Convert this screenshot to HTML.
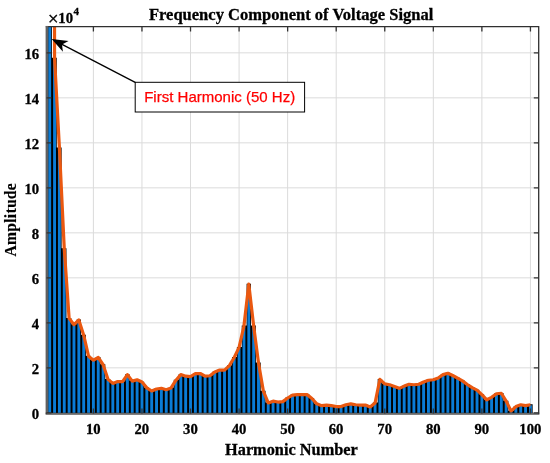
<!DOCTYPE html>
<html lang="en"><head><meta charset="utf-8"><title>Frequency Component of Voltage Signal</title>
<style>html,body{margin:0;padding:0;background:#fff;}svg{display:block;}.s{font-family:"Liberation Serif","DejaVu Serif",serif;font-weight:bold;fill:#000;stroke:#000;stroke-width:0.3px;}.a{font-family:"Liberation Sans","DejaVu Sans",sans-serif;fill:#ff0000;stroke:#ff0000;stroke-width:0.25px;}</style></head><body>
<svg width="550" height="463" viewBox="0 0 550 463">
<rect width="550" height="463" fill="#fff"/>
<defs><clipPath id="c"><rect x="46.5" y="26.6" width="492.20000000000005" height="386.79999999999995"/></clipPath></defs>
<path d="M93.40 26.6V413.4M141.96 26.6V413.4M190.52 26.6V413.4M239.08 26.6V413.4M287.64 26.6V413.4M336.20 26.6V413.4M384.76 26.6V413.4M433.32 26.6V413.4M481.88 26.6V413.4M530.44 26.6V413.4M46.5 367.85H538.7M46.5 322.85H538.7M46.5 277.85H538.7M46.5 232.85H538.7M46.5 187.85H538.7M46.5 142.85H538.7M46.5 97.85H538.7M46.5 52.85H538.7" stroke="#dbdbdb" stroke-width="1" fill="none"/>
<g clip-path="url(#c)">
<path d="M47.50 413.4V-6337.55h4.4V413.4zM51.80 413.4V57.85h0.8V413.4zM52.35 413.4V57.85h4.4V413.4zM56.65 413.4V147.40h0.8V413.4zM57.21 413.4V147.40h4.4V413.4zM61.51 413.4V248.20h0.8V413.4zM62.06 413.4V248.20h4.4V413.4zM66.36 413.4V317.95h0.8V413.4zM66.92 413.4V317.95h4.4V413.4zM71.22 413.4V324.25h0.8V413.4zM71.78 413.4V324.25h4.4V413.4zM76.08 413.4V324.25h0.8V413.4zM76.63 413.4V319.53h4.4V413.4zM80.93 413.4V334.83h0.8V413.4zM81.49 413.4V334.83h4.4V413.4zM85.79 413.4V355.75h0.8V413.4zM86.34 413.4V355.75h4.4V413.4zM90.64 413.4V359.80h0.8V413.4zM91.20 413.4V359.80h4.4V413.4zM95.50 413.4V359.80h0.8V413.4zM96.06 413.4V357.10h4.4V413.4zM100.36 413.4V364.30h0.8V413.4zM100.91 413.4V364.30h4.4V413.4zM105.21 413.4V378.93h0.8V413.4zM105.77 413.4V378.93h4.4V413.4zM110.07 413.4V382.98h0.8V413.4zM110.62 413.4V382.98h4.4V413.4zM114.92 413.4V382.98h0.8V413.4zM115.48 413.4V381.18h4.4V413.4zM119.78 413.4V381.18h0.8V413.4zM120.34 413.4V381.18h4.4V413.4zM124.64 413.4V381.18h0.8V413.4zM125.19 413.4V374.20h4.4V413.4zM129.49 413.4V380.73h0.8V413.4zM130.05 413.4V380.73h4.4V413.4zM134.35 413.4V380.73h0.8V413.4zM134.90 413.4V379.38h4.4V413.4zM139.20 413.4V381.63h0.8V413.4zM139.76 413.4V381.63h4.4V413.4zM144.06 413.4V387.48h0.8V413.4zM144.62 413.4V387.48h4.4V413.4zM148.92 413.4V390.63h0.8V413.4zM149.47 413.4V390.63h4.4V413.4zM153.77 413.4V390.63h0.8V413.4zM154.33 413.4V388.60h4.4V413.4zM158.63 413.4V388.60h0.8V413.4zM159.18 413.4V387.93h4.4V413.4zM163.48 413.4V389.28h0.8V413.4zM164.04 413.4V389.28h4.4V413.4zM168.34 413.4V389.28h0.8V413.4zM168.90 413.4V387.48h4.4V413.4zM173.20 413.4V387.48h0.8V413.4zM173.75 413.4V379.83h4.4V413.4zM178.05 413.4V379.83h0.8V413.4zM178.61 413.4V374.20h4.4V413.4zM182.91 413.4V375.78h0.8V413.4zM183.46 413.4V375.78h4.4V413.4zM187.76 413.4V376.23h0.8V413.4zM188.32 413.4V376.23h4.4V413.4zM192.62 413.4V376.23h0.8V413.4zM193.18 413.4V373.30h4.4V413.4zM197.48 413.4V373.30h0.8V413.4zM198.03 413.4V373.08h4.4V413.4zM202.33 413.4V375.78h0.8V413.4zM202.89 413.4V375.78h4.4V413.4zM207.19 413.4V375.78h0.8V413.4zM207.74 413.4V375.33h4.4V413.4zM212.04 413.4V375.33h0.8V413.4zM212.60 413.4V371.50h4.4V413.4zM216.90 413.4V371.50h0.8V413.4zM217.46 413.4V369.70h4.4V413.4zM221.76 413.4V369.70h0.8V413.4zM222.31 413.4V369.70h4.4V413.4zM226.61 413.4V369.70h0.8V413.4zM227.17 413.4V365.20h4.4V413.4zM231.47 413.4V365.20h0.8V413.4zM232.02 413.4V357.10h4.4V413.4zM236.32 413.4V357.10h0.8V413.4zM236.88 413.4V346.98h4.4V413.4zM241.18 413.4V346.98h0.8V413.4zM241.74 413.4V325.60h4.4V413.4zM246.04 413.4V325.60h0.8V413.4zM246.59 413.4V283.75h4.4V413.4zM250.89 413.4V325.60h0.8V413.4zM251.45 413.4V325.60h4.4V413.4zM255.75 413.4V362.50h0.8V413.4zM256.30 413.4V362.50h4.4V413.4zM260.60 413.4V390.63h0.8V413.4zM261.16 413.4V390.63h4.4V413.4zM265.46 413.4V402.55h0.8V413.4zM266.02 413.4V402.55h4.4V413.4zM270.32 413.4V402.55h0.8V413.4zM270.87 413.4V400.75h4.4V413.4zM275.17 413.4V401.65h0.8V413.4zM275.73 413.4V401.65h4.4V413.4zM280.03 413.4V401.65h0.8V413.4zM280.58 413.4V401.20h4.4V413.4zM284.88 413.4V401.20h0.8V413.4zM285.44 413.4V397.60h4.4V413.4zM289.74 413.4V397.60h0.8V413.4zM290.30 413.4V394.68h4.4V413.4zM294.60 413.4V394.68h0.8V413.4zM295.15 413.4V394.23h4.4V413.4zM299.45 413.4V394.23h0.8V413.4zM300.01 413.4V394.23h4.4V413.4zM304.31 413.4V394.23h0.8V413.4zM304.86 413.4V394.23h4.4V413.4zM309.16 413.4V398.05h0.8V413.4zM309.72 413.4V398.05h4.4V413.4zM314.02 413.4V403.45h0.8V413.4zM314.58 413.4V403.45h4.4V413.4zM318.88 413.4V405.25h0.8V413.4zM319.43 413.4V405.25h4.4V413.4zM323.73 413.4V405.25h0.8V413.4zM324.29 413.4V404.80h4.4V413.4zM328.59 413.4V405.25h0.8V413.4zM329.14 413.4V405.25h4.4V413.4zM333.44 413.4V406.15h0.8V413.4zM334.00 413.4V406.15h4.4V413.4zM338.30 413.4V406.15h0.8V413.4zM338.86 413.4V406.15h4.4V413.4zM343.16 413.4V406.15h0.8V413.4zM343.71 413.4V404.35h4.4V413.4zM348.01 413.4V404.35h0.8V413.4zM348.57 413.4V403.45h4.4V413.4zM352.87 413.4V404.35h0.8V413.4zM353.42 413.4V404.35h4.4V413.4zM357.72 413.4V404.80h0.8V413.4zM358.28 413.4V404.80h4.4V413.4zM362.58 413.4V404.80h0.8V413.4zM363.14 413.4V404.58h4.4V413.4zM367.44 413.4V406.60h0.8V413.4zM367.99 413.4V406.60h4.4V413.4zM372.29 413.4V406.60h0.8V413.4zM372.85 413.4V402.55h4.4V413.4zM377.15 413.4V402.55h0.8V413.4zM377.70 413.4V378.93h4.4V413.4zM382.00 413.4V383.43h0.8V413.4zM382.56 413.4V383.43h4.4V413.4zM386.86 413.4V384.33h0.8V413.4zM387.42 413.4V384.33h4.4V413.4zM391.72 413.4V386.13h0.8V413.4zM392.27 413.4V386.13h4.4V413.4zM396.57 413.4V387.93h0.8V413.4zM397.13 413.4V387.93h4.4V413.4zM401.43 413.4V387.93h0.8V413.4zM401.98 413.4V385.68h4.4V413.4zM406.28 413.4V385.68h0.8V413.4zM406.84 413.4V383.88h4.4V413.4zM411.14 413.4V384.33h0.8V413.4zM411.70 413.4V384.33h4.4V413.4zM416.00 413.4V384.33h0.8V413.4zM416.55 413.4V383.88h4.4V413.4zM420.85 413.4V383.88h0.8V413.4zM421.41 413.4V381.63h4.4V413.4zM425.71 413.4V381.63h0.8V413.4zM426.26 413.4V379.83h4.4V413.4zM430.56 413.4V379.83h0.8V413.4zM431.12 413.4V379.38h4.4V413.4zM435.42 413.4V379.38h0.8V413.4zM435.98 413.4V377.58h4.4V413.4zM440.28 413.4V377.58h0.8V413.4zM440.83 413.4V374.20h4.4V413.4zM445.13 413.4V374.20h0.8V413.4zM445.69 413.4V372.85h4.4V413.4zM449.99 413.4V375.10h0.8V413.4zM450.54 413.4V375.10h4.4V413.4zM454.84 413.4V377.80h0.8V413.4zM455.40 413.4V377.80h4.4V413.4zM459.70 413.4V380.50h0.8V413.4zM460.26 413.4V380.50h4.4V413.4zM464.56 413.4V384.10h0.8V413.4zM465.11 413.4V384.10h4.4V413.4zM469.41 413.4V387.25h0.8V413.4zM469.97 413.4V387.25h4.4V413.4zM474.27 413.4V389.73h0.8V413.4zM474.82 413.4V389.73h4.4V413.4zM479.12 413.4V394.23h0.8V413.4zM479.68 413.4V394.23h4.4V413.4zM483.98 413.4V399.40h0.8V413.4zM484.54 413.4V399.40h4.4V413.4zM488.84 413.4V399.40h0.8V413.4zM489.39 413.4V396.93h4.4V413.4zM493.69 413.4V396.93h0.8V413.4zM494.25 413.4V393.33h4.4V413.4zM498.55 413.4V393.33h0.8V413.4zM499.10 413.4V392.88h4.4V413.4zM503.40 413.4V400.75h0.8V413.4zM503.96 413.4V400.75h4.4V413.4zM508.26 413.4V410.65h0.8V413.4zM508.82 413.4V410.65h4.4V413.4zM513.12 413.4V410.65h0.8V413.4zM513.67 413.4V406.15h4.4V413.4zM517.97 413.4V406.15h0.8V413.4zM518.53 413.4V404.35h4.4V413.4zM522.83 413.4V405.25h0.8V413.4zM523.38 413.4V405.25h4.4V413.4zM527.68 413.4V405.25h0.8V413.4zM528.24 413.4V404.35h4.4V413.4z" fill="#000"/>
<path d="M48.25 413.4V-6336.65h2.9V413.4zM53.10 413.4V58.75h2.9V413.4zM57.96 413.4V148.30h2.9V413.4zM62.81 413.4V249.10h2.9V413.4zM67.67 413.4V318.85h2.9V413.4zM72.53 413.4V325.15h2.9V413.4zM77.38 413.4V320.43h2.9V413.4zM82.24 413.4V335.73h2.9V413.4zM87.09 413.4V356.65h2.9V413.4zM91.95 413.4V360.70h2.9V413.4zM96.81 413.4V358.00h2.9V413.4zM101.66 413.4V365.20h2.9V413.4zM106.52 413.4V379.83h2.9V413.4zM111.37 413.4V383.88h2.9V413.4zM116.23 413.4V382.08h2.9V413.4zM121.09 413.4V382.08h2.9V413.4zM125.94 413.4V375.10h2.9V413.4zM130.80 413.4V381.62h2.9V413.4zM135.65 413.4V380.28h2.9V413.4zM140.51 413.4V382.53h2.9V413.4zM145.37 413.4V388.38h2.9V413.4zM150.22 413.4V391.53h2.9V413.4zM155.08 413.4V389.50h2.9V413.4zM159.93 413.4V388.83h2.9V413.4zM164.79 413.4V390.18h2.9V413.4zM169.65 413.4V388.38h2.9V413.4zM174.50 413.4V380.73h2.9V413.4zM179.36 413.4V375.10h2.9V413.4zM184.21 413.4V376.68h2.9V413.4zM189.07 413.4V377.12h2.9V413.4zM193.93 413.4V374.20h2.9V413.4zM198.78 413.4V373.98h2.9V413.4zM203.64 413.4V376.68h2.9V413.4zM208.49 413.4V376.23h2.9V413.4zM213.35 413.4V372.40h2.9V413.4zM218.21 413.4V370.60h2.9V413.4zM223.06 413.4V370.60h2.9V413.4zM227.92 413.4V366.10h2.9V413.4zM232.77 413.4V358.00h2.9V413.4zM237.63 413.4V347.88h2.9V413.4zM242.49 413.4V326.50h2.9V413.4zM247.34 413.4V284.65h2.9V413.4zM252.20 413.4V326.50h2.9V413.4zM257.05 413.4V363.40h2.9V413.4zM261.91 413.4V391.53h2.9V413.4zM266.77 413.4V403.45h2.9V413.4zM271.62 413.4V401.65h2.9V413.4zM276.48 413.4V402.55h2.9V413.4zM281.33 413.4V402.10h2.9V413.4zM286.19 413.4V398.50h2.9V413.4zM291.05 413.4V395.58h2.9V413.4zM295.90 413.4V395.12h2.9V413.4zM300.76 413.4V395.12h2.9V413.4zM305.61 413.4V395.12h2.9V413.4zM310.47 413.4V398.95h2.9V413.4zM315.33 413.4V404.35h2.9V413.4zM320.18 413.4V406.15h2.9V413.4zM325.04 413.4V405.70h2.9V413.4zM329.89 413.4V406.15h2.9V413.4zM334.75 413.4V407.05h2.9V413.4zM339.61 413.4V407.05h2.9V413.4zM344.46 413.4V405.25h2.9V413.4zM349.32 413.4V404.35h2.9V413.4zM354.17 413.4V405.25h2.9V413.4zM359.03 413.4V405.70h2.9V413.4zM363.89 413.4V405.48h2.9V413.4zM368.74 413.4V407.50h2.9V413.4zM373.60 413.4V403.45h2.9V413.4zM378.45 413.4V379.83h2.9V413.4zM383.31 413.4V384.33h2.9V413.4zM388.17 413.4V385.23h2.9V413.4zM393.02 413.4V387.03h2.9V413.4zM397.88 413.4V388.83h2.9V413.4zM402.73 413.4V386.58h2.9V413.4zM407.59 413.4V384.78h2.9V413.4zM412.45 413.4V385.23h2.9V413.4zM417.30 413.4V384.78h2.9V413.4zM422.16 413.4V382.53h2.9V413.4zM427.01 413.4V380.73h2.9V413.4zM431.87 413.4V380.28h2.9V413.4zM436.73 413.4V378.48h2.9V413.4zM441.58 413.4V375.10h2.9V413.4zM446.44 413.4V373.75h2.9V413.4zM451.29 413.4V376.00h2.9V413.4zM456.15 413.4V378.70h2.9V413.4zM461.01 413.4V381.40h2.9V413.4zM465.86 413.4V385.00h2.9V413.4zM470.72 413.4V388.15h2.9V413.4zM475.57 413.4V390.62h2.9V413.4zM480.43 413.4V395.12h2.9V413.4zM485.29 413.4V400.30h2.9V413.4zM490.14 413.4V397.83h2.9V413.4zM495.00 413.4V394.23h2.9V413.4zM499.85 413.4V393.78h2.9V413.4zM504.71 413.4V401.65h2.9V413.4zM509.57 413.4V411.55h2.9V413.4zM514.42 413.4V407.05h2.9V413.4zM519.28 413.4V405.25h2.9V413.4zM524.13 413.4V406.15h2.9V413.4zM528.99 413.4V405.25h2.9V413.4z" fill="#0A7CD6"/>
<polyline points="49.70,-6337.15 54.55,58.25 59.41,147.80 64.26,248.60 69.12,318.35 73.98,324.65 78.83,319.93 83.69,335.23 88.54,356.15 93.40,360.20 98.26,357.50 103.11,364.70 107.97,379.33 112.82,383.38 117.68,381.58 122.54,381.58 127.39,374.60 132.25,381.12 137.10,379.78 141.96,382.03 146.82,387.88 151.67,391.03 156.53,389.00 161.38,388.33 166.24,389.68 171.10,387.88 175.95,380.23 180.81,374.60 185.66,376.18 190.52,376.62 195.38,373.70 200.23,373.48 205.09,376.18 209.94,375.73 214.80,371.90 219.66,370.10 224.51,370.10 229.37,365.60 234.22,357.50 239.08,347.38 243.94,326.00 248.79,284.15 253.65,326.00 258.50,362.90 263.36,391.03 268.22,402.95 273.07,401.15 277.93,402.05 282.78,401.60 287.64,398.00 292.50,395.08 297.35,394.62 302.21,394.62 307.06,394.62 311.92,398.45 316.78,403.85 321.63,405.65 326.49,405.20 331.34,405.65 336.20,406.55 341.06,406.55 345.91,404.75 350.77,403.85 355.62,404.75 360.48,405.20 365.34,404.98 370.19,407.00 375.05,402.95 379.90,379.33 384.76,383.83 389.62,384.73 394.47,386.53 399.33,388.33 404.18,386.08 409.04,384.28 413.90,384.73 418.75,384.28 423.61,382.03 428.46,380.23 433.32,379.78 438.18,377.98 443.03,374.60 447.89,373.25 452.74,375.50 457.60,378.20 462.46,380.90 467.31,384.50 472.17,387.65 477.02,390.12 481.88,394.62 486.74,399.80 491.59,397.33 496.45,393.73 501.30,393.28 506.16,401.15 511.02,411.05 515.87,406.55 520.73,404.75 525.58,405.65 530.44,404.75" fill="none" stroke="#EA5810" stroke-width="3.2" stroke-linejoin="round" stroke-linecap="butt"/>
</g>
<path d="M45.85 26.6H538.7V413.4" fill="none" stroke="#303030" stroke-width="1.3"/>
<rect x="45.6" y="25.950000000000003" width="2.65" height="387.44999999999993" fill="#606060"/>
<rect x="45.6" y="412.70" width="493.75" height="1.9" fill="#2e2e2e"/>
<rect x="46.6" y="413.35" width="491.60" height="0.6" fill="#909090"/>
<path d="M93.40 413.4v-4.9M93.40 26.6v4.9M141.96 413.4v-4.9M141.96 26.6v4.9M190.52 413.4v-4.9M190.52 26.6v4.9M239.08 413.4v-4.9M239.08 26.6v4.9M287.64 413.4v-4.9M287.64 26.6v4.9M336.20 413.4v-4.9M336.20 26.6v4.9M384.76 413.4v-4.9M384.76 26.6v4.9M433.32 413.4v-4.9M433.32 26.6v4.9M481.88 413.4v-4.9M481.88 26.6v4.9M530.44 413.4v-4.9M530.44 26.6v4.9M46.5 412.85h4.9M538.7 412.85h-4.9M46.5 367.85h4.9M538.7 367.85h-4.9M46.5 322.85h4.9M538.7 322.85h-4.9M46.5 277.85h4.9M538.7 277.85h-4.9M46.5 232.85h4.9M538.7 232.85h-4.9M46.5 187.85h4.9M538.7 187.85h-4.9M46.5 142.85h4.9M538.7 142.85h-4.9M46.5 97.85h4.9M538.7 97.85h-4.9M46.5 52.85h4.9M538.7 52.85h-4.9" stroke="#333" stroke-width="1.3" fill="none"/>
<text class="s" x="93.30" y="434.4" font-size="14.7" text-anchor="middle">10</text>
<text class="s" x="141.86" y="434.4" font-size="14.7" text-anchor="middle">20</text>
<text class="s" x="190.42" y="434.4" font-size="14.7" text-anchor="middle">30</text>
<text class="s" x="238.98" y="434.4" font-size="14.7" text-anchor="middle">40</text>
<text class="s" x="287.54" y="434.4" font-size="14.7" text-anchor="middle">50</text>
<text class="s" x="336.10" y="434.4" font-size="14.7" text-anchor="middle">60</text>
<text class="s" x="384.66" y="434.4" font-size="14.7" text-anchor="middle">70</text>
<text class="s" x="433.22" y="434.4" font-size="14.7" text-anchor="middle">80</text>
<text class="s" x="481.78" y="434.4" font-size="14.7" text-anchor="middle">90</text>
<text class="s" x="530.34" y="434.4" font-size="14.7" text-anchor="middle">100</text>
<text class="s" x="39.1" y="418.50" font-size="14.7" text-anchor="end">0</text>
<text class="s" x="39.1" y="373.50" font-size="14.7" text-anchor="end">2</text>
<text class="s" x="39.1" y="328.50" font-size="14.7" text-anchor="end">4</text>
<text class="s" x="39.1" y="283.50" font-size="14.7" text-anchor="end">6</text>
<text class="s" x="39.1" y="238.50" font-size="14.7" text-anchor="end">8</text>
<text class="s" x="39.1" y="193.50" font-size="14.7" text-anchor="end">10</text>
<text class="s" x="39.1" y="148.50" font-size="14.7" text-anchor="end">12</text>
<text class="s" x="39.1" y="103.50" font-size="14.7" text-anchor="end">14</text>
<text class="s" x="39.1" y="58.50" font-size="14.7" text-anchor="end">16</text>
<text class="s" x="47.9" y="24.6" font-size="18.6" style="font-weight:normal;stroke-width:0.45px">×</text>
<text class="s" x="58.3" y="22.9" font-size="14.7">10</text>
<text class="s" x="73.6" y="15.3" font-size="11">4</text>
<text class="s" x="291.1" y="20.4" font-size="16.5" text-anchor="middle" textLength="284.4" lengthAdjust="spacing">Frequency Component of Voltage Signal</text>
<text class="s" x="291.4" y="455.1" font-size="16.3" text-anchor="middle" textLength="132.7" lengthAdjust="spacing">Harmonic Number</text>
<text class="s" transform="translate(15.8 219.9) rotate(-90)" font-size="15.7" style="stroke-width:0.12px" text-anchor="middle" textLength="73.4" lengthAdjust="spacing">Amplitude</text>
<rect x="135.2" y="82.3" width="169.4" height="29.7" fill="#fff" stroke="#000" stroke-width="1"/>
<text class="a" x="144.2" y="101.8" font-size="15" textLength="151" lengthAdjust="spacing">First Harmonic (50 Hz)</text>
<line x1="135.2" y1="82.3" x2="60.58" y2="43.65" stroke="#000" stroke-width="1.3"/>
<polygon points="51.70,39.05 68.54,40.90 62.00,44.39 62.92,51.73" fill="#000"/>
</svg></body></html>
